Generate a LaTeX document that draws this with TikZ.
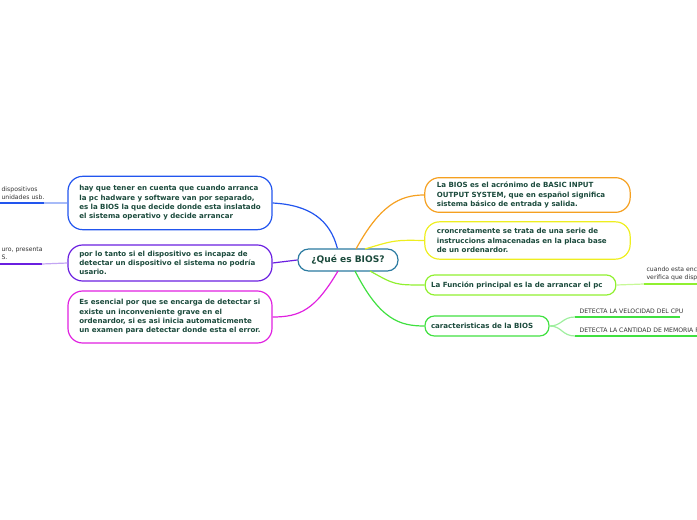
\documentclass[tikz,border=0pt]{standalone}
\usepackage{fontspec}
\setmainfont{DejaVu Sans}
\definecolor{txt}{HTML}{1B4A3C}
\definecolor{cblue}{HTML}{2255EE}
\definecolor{cpurp}{HTML}{6A1FE0}
\definecolor{cmag}{HTML}{E020E0}
\definecolor{corg}{HTML}{F5A020}
\definecolor{cyel}{HTML}{EEEE20}
\definecolor{clg}{HTML}{90F030}
\definecolor{cgr}{HTML}{40E040}
\definecolor{ccen}{HTML}{2A7AA0}
\newcommand{\rbox}[2]{\parbox{#1}{\raggedright #2}}
\begin{document}
\begin{tikzpicture}[x=0.75pt,y=-0.75pt,
  box/.style={draw,line width=0.9pt,rounded corners=11pt,inner sep=0pt,align=left,text=txt,font=\bfseries\fontsize{5.3}{7}\selectfont},
  leaf/.style={font=\fontsize{4.6}{6}\selectfont,text=black!80,align=left,anchor=south west,inner sep=1pt},
  con/.style={line width=0.9pt}]
\useasboundingbox (0,0) rectangle (697,520);
\clip (0,0) rectangle (697,520);
\node[box,draw=ccen,minimum width=75pt,minimum height=16.5pt,align=center,rounded corners=8pt,font=\bfseries\fontsize{6.8}{8}\selectfont] (c) at (348,260) {¿Qué es BIOS?};
\node[box,draw=cblue,minimum width=153pt,minimum height=40pt] (l1) at (170,203) {\rbox{136pt}{hay que tener en cuenta que cuando arranca la pc hadware y software van por separado, es la BIOS la que decide donde esta inslatado el sistema operativo y decide arrancar}};
\node[box,draw=cpurp,minimum width=153pt,minimum height=27pt] (l2) at (170,263) {\rbox{136pt}{por lo tanto si el dispositivo es incapaz de detectar un dispositivo el sistema no podría usario.}};
\node[box,draw=cmag,minimum width=153pt,minimum height=39pt] (l3) at (170,317) {\rbox{136pt}{Es esencial por que se encarga de detectar si existe un inconveniente grave en el ordenardor, si es asi inicia automaticmente un examen para detectar donde esta el error.}};
\node[box,draw=corg,minimum width=154pt,minimum height=26pt] (r1) at (527.5,195) {\rbox{136pt}{La BIOS es el acrónimo de BASIC INPUT OUTPUT SYSTEM, que en español significa sistema básico de entrada y salida.}};
\node[box,draw=cyel,minimum width=154pt,minimum height=28pt] (r2) at (527.5,240.5) {\rbox{136pt}{croncretamente se trata de una serie de instruccions almacenadas en la placa base de un ordenardor.}};
\node[box,draw=clg,minimum width=143pt,minimum height=15pt,rounded corners=7pt] (r3) at (520.5,285) {\rbox{134pt}{La Función principal es la de arrancar el pc}};
\node[box,draw=cgr,minimum width=93pt,minimum height=15pt,rounded corners=7pt] (r4) at (487,326) {\rbox{84pt}{caracteristicas de la BIOS}};
% connectors
\draw[con,cblue] (c.north west) ++(40,0) coordinate (c1) (c1) .. controls (330,220) and (310,205) .. (l1.east);
\draw[con,cpurp] (c.west) .. controls (285,261) .. (l2.east);
\draw[con,cmag] (338,271) .. controls (315,310) and (300,317) .. (l3.east);
\draw[con,corg] (356,249) .. controls (380,205) and (400,195) .. (r1.west);
\draw[con,cyel] (365,249) .. controls (395,240) .. (r2.west);
\draw[con,clg] (370,271) .. controls (395,285) .. (r3.west);
\draw[con,cgr] (355,271) .. controls (380,320) and (400,326) .. (r4.west);
% leaves left
\coordinate (a1) at (0,203); \coordinate (a1e) at (44,203);
\draw[con,cblue] (a1) -- (a1e);
\draw[con,cblue!40] (a1e) -- (l1.west);
\node[leaf] at (0,201) {dispositivos\\unidades usb.};
\coordinate (a2) at (0,264); \coordinate (a2e) at (42,264);
\draw[con,cpurp] (a2) -- (a2e);
\draw[con,cpurp!40] (a2e) -- (l2.west);
\node[leaf] at (0,261) {uro, presenta\\S.};
% leaves right
\coordinate (b1) at (644,284); \coordinate (b1e) at (697,284);
\draw[con,clg!50] (r3.east) -- (b1);
\draw[con,clg] (b1) -- (b1e);
\node[leaf] at (645,282) {cuando esta enciendido\\verifica que dispositivos};
\coordinate (d1) at (575,317); \coordinate (d1e) at (680,317);
\coordinate (d2) at (575,336); \coordinate (d2e) at (697,336);
\draw[con,cgr!50] (r4.east) .. controls (562,326) and (562,317) .. (d1);
\draw[con,cgr!50] (r4.east) .. controls (562,326) and (562,336) .. (d2);
\draw[con,cgr] (d1) -- (d1e);
\draw[con,cgr] (d2) -- (d2e);
\node[leaf] at (578,315) {DETECTA LA VELOCIDAD DEL CPU};
\node[leaf] at (578,334) {DETECTA LA CANTIDAD DE MEMORIA RAM};
\end{tikzpicture}
\end{document}
